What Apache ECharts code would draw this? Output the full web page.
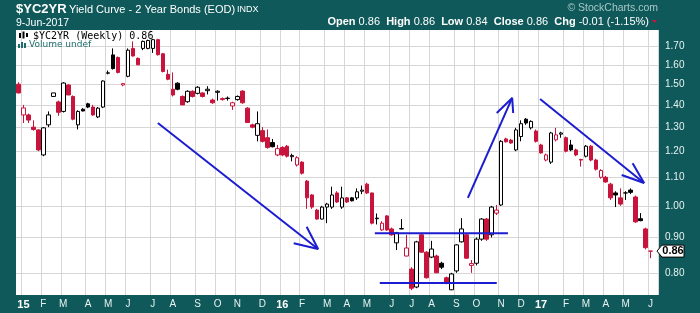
<!DOCTYPE html>
<html><head><meta charset="utf-8">
<script src="https://cdn.jsdelivr.net/npm/echarts@6/dist/echarts.min.js"></script>
<style>html,body{margin:0;padding:0;background:#10595a;}#c{width:700px;height:313px;}</style>
</head><body><div id="c"></div>
<script>
// ---- data (weekly OHLC, Dec 29 2014 week .. Jun 5 2017 week) ----
const opens = [1.50,1.354,1.354,1.30,1.288,1.185,1.31,1.44,1.414,1.37,
1.496,1.44,1.31,1.38,1.405,1.39,1.345,1.39,1.556,1.654,
1.64,1.496,1.54,1.69,1.635,1.69,1.69,1.69,1.74,1.66,
1.55,1.475,1.505,1.44,1.415,1.465,1.455,1.457,1.468,1.423,
1.46,1.425,1.43,1.395,1.425,1.466,1.385,1.31,1.265,1.285,
1.255,1.235,1.185,1.215,1.22,1.178,1.146,1.157,1.086,1.037,
0.986,0.957,0.996,0.996,1.044,0.996,1.027,1.027,1.027,1.05,
1.075,1.044,0.958,0.923,0.967,0.926,0.884,0.926,0.846,0.81,
0.763,0.908,0.857,0.843,0.846,0.826,0.787,0.756,0.805,0.887,
0.908,0.82,0.826,0.895,0.957,0.908,0.976,1.003,1.25,1.245,
1.205,1.26,1.335,1.297,1.283,1.225,1.165,1.157,1.246,1.27,
1.255,1.225,1.205,1.167,1.18,1.22,1.165,1.10,1.10,1.075,
1.044,1.027,1.044,1.054,1.03,0.958,0.926,0.86];
const highs = [1.51,1.40,1.36,1.33,1.29,1.30,1.37,1.457,1.42,1.51,
1.50,1.445,1.375,1.385,1.41,1.40,1.39,1.52,1.57,1.69,
1.645,1.505,1.69,1.73,1.64,1.735,1.74,1.745,1.745,1.665,
1.575,1.56,1.51,1.445,1.47,1.47,1.49,1.46,1.49,1.43,
1.47,1.435,1.44,1.415,1.445,1.47,1.39,1.315,1.37,1.30,
1.29,1.25,1.225,1.22,1.225,1.19,1.18,1.16,1.09,1.04,
0.99,1.00,1.01,1.066,1.05,1.066,1.03,1.03,1.06,1.07,
1.08,1.045,0.975,0.95,0.97,0.93,0.917,0.957,0.908,0.815,
0.89,0.91,0.86,0.89,0.85,0.83,0.79,0.80,0.88,0.96,
0.91,0.835,0.90,0.96,0.96,1.00,1.003,1.245,1.255,1.25,
1.297,1.33,1.34,1.33,1.29,1.23,1.19,1.28,1.297,1.28,
1.26,1.246,1.21,1.17,1.225,1.225,1.17,1.13,1.105,1.08,
1.05,1.06,1.05,1.06,1.035,0.976,0.93,0.86];
const lows = [1.455,1.318,1.318,1.285,1.20,1.18,1.30,1.44,1.35,1.365,
1.447,1.33,1.29,1.37,1.385,1.35,1.34,1.385,1.55,1.575,
1.555,1.49,1.535,1.645,1.60,1.68,1.685,1.665,1.65,1.56,
1.52,1.44,1.47,1.40,1.41,1.435,1.45,1.435,1.45,1.405,
1.42,1.42,1.42,1.377,1.42,1.405,1.32,1.295,1.24,1.235,
1.21,1.215,1.18,1.18,1.175,1.16,1.14,1.11,0.99,0.99,
0.955,0.955,0.944,0.99,1.01,0.99,1.01,1.015,1.02,1.04,
1.04,0.94,0.94,0.92,0.92,0.905,0.863,0.925,0.845,0.755,
0.76,0.855,0.785,0.84,0.80,0.81,0.77,0.755,0.80,0.885,
0.838,0.80,0.82,0.89,0.89,0.90,0.97,1.0,1.235,1.23,
1.20,1.24,1.31,1.29,1.235,1.19,1.16,1.15,1.24,1.255,
1.195,1.20,1.18,1.14,1.175,1.16,1.125,1.095,1.08,1.02,
0.996,1.0,1.02,1.04,0.945,0.95,0.865,0.84];
const closes = [1.457,1.386,1.331,1.29,1.205,1.297,1.354,1.457,1.366,1.506,
1.447,1.335,1.37,1.372,1.39,1.354,1.385,1.516,1.558,1.58,
1.56,1.503,1.68,1.648,1.60,1.73,1.735,1.74,1.655,1.565,
1.525,1.447,1.475,1.40,1.465,1.44,1.485,1.44,1.475,1.41,
1.465,1.43,1.432,1.41,1.44,1.41,1.32,1.30,1.315,1.24,
1.215,1.218,1.21,1.185,1.18,1.183,1.174,1.115,1.027,0.996,
0.957,0.996,1.006,1.037,1.013,1.027,1.013,1.017,1.048,1.054,
1.044,0.944,0.96,0.944,0.923,0.908,0.914,0.927,0.869,0.76,
0.887,0.857,0.787,0.866,0.80,0.815,0.774,0.797,0.878,0.926,
0.84,0.825,0.895,0.957,0.895,0.996,0.986,1.24,1.238,1.233,
1.288,1.315,1.318,1.325,1.24,1.193,1.185,1.275,1.267,1.275,
1.20,1.205,1.185,1.165,1.22,1.165,1.13,1.125,1.083,1.027,
1.037,1.006,1.044,1.046,0.948,0.952,0.87,0.86];

const yTicks = [0.80,0.90,1.00,1.10,1.20,1.30,1.40,1.50,1.60,1.70];
const monthLetters = ['J','F','M','A','M','J','J','A','S','O','N','D'];

// hand-drawn annotations, in [week index, value]
const trendDown1 = [[28.0,1.318],[60.2,0.866]];
const trendDown1Head = [[55.3,0.883],[60.2,0.866],[57.9,0.933]];
const trendUp = [[90.3,1.027],[99.2,1.433]];
const trendUpHead = [[96.1,1.363],[99.2,1.433],[99.4,1.363]];
const trendDown2 = [[104.8,1.428],[125.7,1.079]];
const trendDown2Head = [[121.2,1.1085],[125.7,1.079],[123.4,1.1526]];
const rangeTop = [[71.6,0.9127],[98.35,0.9127]];
const rangeBottom = [[72.6,0.7734],[96.1,0.7734]];

// ---- axis helpers ----
const Y_MIN = 0.743, Y_MAX = 1.797;
const FIRST_MONDAY = Date.UTC(2014, 11, 29);
const N_SLOTS = opens.length + 1;
const DAY = 864e5;
const weeks = [];
for (let i = 0; i < N_SLOTS; i++) weeks.push(new Date(FIRST_MONDAY + i * 7 * DAY));
const cats = weeks.map(d => d.toISOString().slice(0,10));
const labelMap = {};
weeks.forEach((d, i) => {
  if (i === 0) { labelMap[i] = '{y|' + String(new Date(FIRST_MONDAY + 4*DAY).getUTCFullYear()).slice(2) + '}'; return; }
  if (i >= opens.length) return;
  if (d.getUTCMonth() !== weeks[i-1].getUTCMonth()) {
    labelMap[i] = d.getUTCMonth() === 0 ? '{y|' + String(d.getUTCFullYear()).slice(2) + '}' : monthLetters[d.getUTCMonth()];
  }
});

const RED = '#c8143c', BLACK = '#000000';
const candleData = opens.map((o, i) => {
  const c = closes[i];
  const prev = i > 0 ? closes[i-1] : Infinity;
  const col = c < prev ? RED : BLACK;
  const fill = c > o ? '#ffffff' : col;
  return {
    value: [Math.log(o), Math.log(c), Math.log(lows[i]), Math.log(highs[i])],
    itemStyle: {color: fill, color0: fill, borderColor: col, borderColor0: col, borderColorDoji: col}
  };
});

const toXY = arr => arr.map(p => [p[0], Math.log(p[1])]);
const annot = [trendDown1, trendDown1Head, trendUp, trendUpHead, trendDown2, trendDown2Head, rangeTop, rangeBottom];

const chart = echarts.init(document.getElementById('c'), null, {renderer: 'canvas', width: 700, height: 313});
const lastClose = closes[closes.length-1];

chart.setOption({
  animation: false,
  backgroundColor: '#10595a',
  grid: {left: 16, right: 42, top: 30, bottom: 18, show: true, backgroundColor: '#ffffff', borderWidth: 0, containLabel: false, outerBoundsMode: 'none'},
  xAxis: [{
    type: 'category', data: cats, boundaryGap: true,
    axisLine: {show: false}, axisTick: {show: false, interval: (i) => labelMap[i] !== undefined},
    axisLabel: {
      interval: (i) => labelMap[i] !== undefined,
      formatter: (v, i) => labelMap[i] || '',
      color: '#e6f2f2', fontSize: 10, fontFamily: 'Liberation Sans', margin: 4,
      rich: {y: {fontWeight: 'bold', fontSize: 11, color: '#ffffff', fontFamily: 'Liberation Sans'}}
    },
    splitLine: {show: true, interval: (i) => i > 0 && labelMap[i] !== undefined, lineStyle: {color: '#d6d6d6', width: 1}}
  }, {
    type: 'value', min: -0.5, max: N_SLOTS - 0.5, show: false
  }],
  yAxis: [{
    type: 'value', position: 'right', min: Math.log(Y_MIN), max: Math.log(Y_MAX),
    axisLine: {show: false},
    axisTick: {show: false, customValues: yTicks.map(Math.log)},
    axisLabel: {customValues: yTicks.map(Math.log), formatter: v => Math.exp(v).toFixed(2), color: '#e6f2f2', fontSize: 10, fontFamily: 'Liberation Sans', margin: 7},
    splitLine: {show: true, lineStyle: {color: '#d6d6d6', width: 1}}
  }],
  series: [{
    type: 'candlestick', xAxisIndex: 0, yAxisIndex: 0, barWidth: 4, data: candleData, z: 3
  }].concat(annot.map(a => ({
    type: 'line', xAxisIndex: 1, yAxisIndex: 0, data: toXY(a), symbol: 'none', silent: true, z: 5,
    lineStyle: {color: '#1c1cd0', width: 2}
  })))
});

const tagY = chart.convertToPixel({yAxisIndex: 0}, Math.log(lastClose));
const F = '"Liberation Sans", Arial, sans-serif';
chart.setOption({
  graphic: [
    {type: 'text', style: {x: 16, y: 9.5, text: '$YC2YR', font: 'bold 13px ' + F, fill: '#ffffff', textVerticalAlign: 'middle'}},
    {type: 'text', style: {x: 69, y: 9.5, text: 'Yield Curve - 2 Year Bonds (EOD)', font: '11px ' + F, fill: '#ffffff', textVerticalAlign: 'middle'}},
    {type: 'text', style: {x: 237, y: 10, text: 'INDX', font: '9px ' + F, fill: '#ffffff', textVerticalAlign: 'middle'}},
    {type: 'text', style: {x: 16, y: 23, text: '9-Jun-2017', font: '10.5px ' + F, fill: '#ffffff', textVerticalAlign: 'middle'}},
    {type: 'text', style: {x: 658, y: 8, text: '© StockCharts.com', font: '10.5px ' + F, fill: '#a8c8c8', textAlign: 'right', textVerticalAlign: 'middle'}},
    {type: 'text', style: {x: 649, y: 22, textAlign: 'right', textVerticalAlign: 'middle',
      text: '{b|Open} 0.86  {b|High} 0.86  {b|Low} 0.84  {b|Close} 0.86  {b|Chg} -0.01 (-1.15%)',
      font: '11px ' + F, fill: '#ffffff', rich: {b: {fontWeight: 'bold', fontSize: 11, fontFamily: 'Liberation Sans', fill: '#ffffff', color: '#ffffff'}}}},
    {type: 'polygon', shape: {points: [[652,20],[657,20],[654.5,23]]}, style: {fill: RED}},
    // legend icons
    {type: 'rect', shape: {x: 19, y: 33, width: 2, height: 5}, style: {fill: '#000'}},
    {type: 'rect', shape: {x: 22.5, y: 31.5, width: 2, height: 7}, style: {fill: '#000'}},
    {type: 'rect', shape: {x: 26, y: 33, width: 2, height: 4}, style: {fill: '#000'}},
    {type: 'text', style: {x: 33, y: 36, text: '$YC2YR (Weekly) 0.86', font: '10px "DejaVu Sans Mono", monospace', fill: '#000000', textVerticalAlign: 'middle'}},
    {type: 'rect', shape: {x: 18, y: 44, width: 2, height: 4}, style: {fill: '#1d6d6d'}},
    {type: 'rect', shape: {x: 21, y: 42, width: 2, height: 6}, style: {fill: '#1d6d6d'}},
    {type: 'rect', shape: {x: 24, y: 43, width: 2, height: 5}, style: {fill: '#1d6d6d'}},
    {type: 'text', style: {x: 29, y: 44.5, text: 'Volume undef', font: '9px "DejaVu Sans", sans-serif', fill: '#1d6d6d', textVerticalAlign: 'middle'}},
    // last price tag
    {type: 'polygon', shape: {points: [[657,tagY],[662,tagY-6],[684,tagY-6],[684,tagY+6],[662,tagY+6]]}, style: {fill: '#ffffff', stroke: '#000000', lineWidth: 1}, z: 10},
    {type: 'text', style: {x: 673, y: tagY, text: lastClose.toFixed(2), font: 'bold 11px ' + F, fill: '#000000', textAlign: 'center', textVerticalAlign: 'middle'}, z: 11}
  ]
});
</script>
</body></html>
